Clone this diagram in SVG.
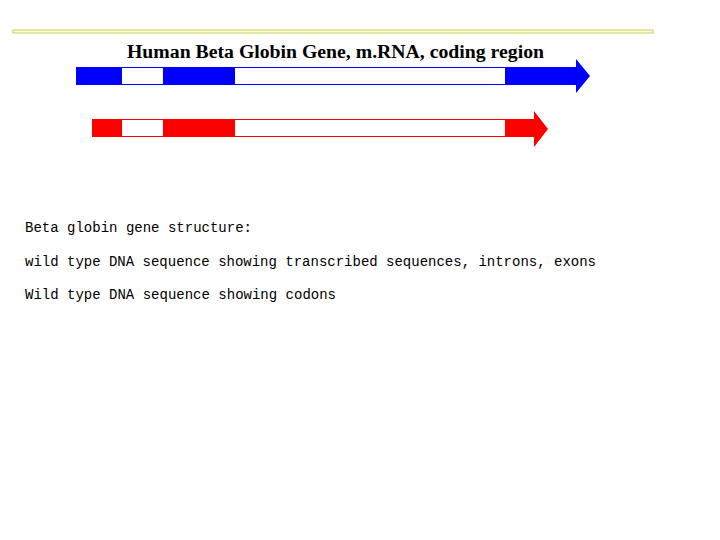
<svg xmlns="http://www.w3.org/2000/svg" width="720" height="540" viewBox="0 0 720 540">
<style>
.t{font-family:"Liberation Mono",monospace;font-size:14px;fill:#000}
.w{fill:#fff}
</style>
<rect width="720" height="540" fill="#fff"/>
<rect x="13" y="30" width="640" height="3" fill="#ffffcc" stroke="#cccc66" stroke-width="1"/>
<text x="127" y="58" textLength="417" lengthAdjust="spacingAndGlyphs" font-family="Liberation Serif,serif" font-weight="bold" font-size="18">Human Beta Globin Gene, m.RNA, coding region</text>
<g id="blue">
<path d="M76 67H576V59L590 76L576 93V85H76Z" fill="#0000ff"/>
<rect class="w" x="122" y="68" width="41" height="16"/>
<rect class="w" x="235" y="68" width="270" height="16"/>
</g>
<g id="red">
<path d="M92 119H534V111L548 129L534 147V137H92Z" fill="#ff0000"/>
<rect class="w" x="122" y="120" width="41" height="16"/>
<rect class="w" x="235" y="120" width="270" height="16"/>
</g>
<text class="t" x="25" y="232" textLength="227">Beta globin gene structure:</text>
<text class="t" x="25" y="266" textLength="571">wild type DNA sequence showing transcribed sequences, introns, exons</text>
<text class="t" x="25" y="299" textLength="311">Wild type DNA sequence showing codons</text>
</svg>
